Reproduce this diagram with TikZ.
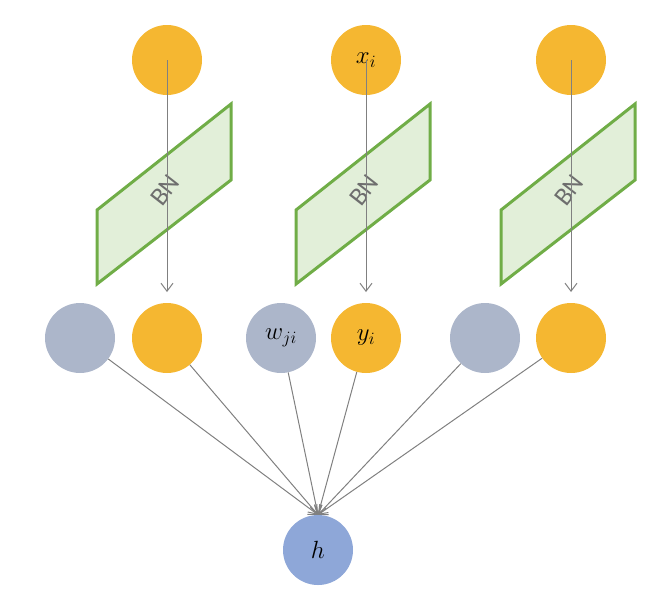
\documentclass[tikz,border=0pt]{standalone}
\usepackage{fontspec}
\usetikzlibrary{arrows.meta}
\newfontfamily\bnfont{Carlito}
\begin{document}
\begin{tikzpicture}[x=1pt,y=-1pt,
  lbl/.style={font=\fontsize{26}{30}\selectfont},
  org/.style={circle,fill={rgb,255:red,245;green,183;blue,49},minimum size=70pt,inner sep=0pt,lbl},
  gry/.style={circle,fill={rgb,255:red,172;green,182;blue,202},minimum size=70pt,inner sep=0pt,lbl},
  blu/.style={circle,fill={rgb,255:red,142;green,167;blue,216},minimum size=70pt,inner sep=0pt,lbl},
  bn/.style={draw={rgb,255:red,112;green,173;blue,71},fill={rgb,255:red,226;green,239;blue,217},line width=3pt},
  arr/.style={draw={rgb,255:red,128;green,128;blue,128},-{Straight Barb[length=8pt,width=12pt]},line width=1pt}]
\useasboundingbox (0,0) rectangle (668,606);
\foreach \x/\n in {167/1,366/2,571/3}{
  \draw[bn] (\x-70,210) -- (\x+64,104) -- (\x+64,180) -- (\x-70,284) -- cycle;
  \node[rotate=52,font=\bnfont\fontsize{26}{30}\selectfont,text={rgb,255:red,110;green,110;blue,110}] at (\x-2,190) {BN};
}
\node[org] (t1) at (167,60) {};
\node[org] (t2) at (366,60) {$x_i$};
\node[org] (t3) at (571,60) {};
\coordinate (e1) at (167,292);
\coordinate (e2) at (366,292);
\coordinate (e3) at (571,292);
\foreach \n in {1,2,3}{\draw[arr] (t\n.center) -- (e\n);}
\node[gry] (g1) at (80,338) {};
\node[org] (o1) at (167,338) {};
\node[gry] (g2) at (281,338) {$w_{ji}$};
\node[org] (o2) at (366,338) {$y_i$};
\node[gry] (g3) at (485,338) {};
\node[org] (o3) at (571,338) {};
\node[blu] (h) at (318,550) {$h$};
\foreach \n in {g1,o1,g2,o2,g3,o3}{\draw[arr] (\n) -- (h.north);}
\end{tikzpicture}
\end{document}
